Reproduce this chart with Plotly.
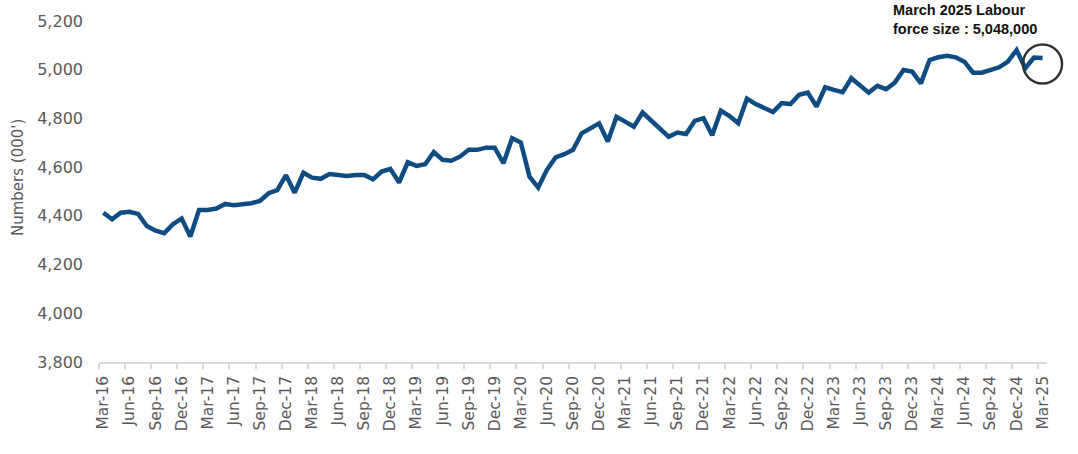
import plotly.graph_objects as go

months = ["Mar", "Apr", "May", "Jun", "Jul", "Aug", "Sep", "Oct", "Nov", "Dec", "Jan", "Feb"]

# Monthly labour force (000') from Mar-16 to Mar-25
values = [
    4413, 4386, 4413, 4417, 4408, 4358, 4339, 4329, 4366, 4389, 4315, 4424,   # Mar-16..Feb-17
    4424, 4430, 4449, 4444, 4448, 4452, 4461, 4493, 4506, 4567, 4495, 4577,   # Mar-17..Feb-18
    4557, 4552, 4572, 4568, 4564, 4568, 4568, 4550, 4582, 4593, 4537, 4620,   # Mar-18..Feb-19
    4605, 4612, 4662, 4630, 4626, 4643, 4671, 4671, 4680, 4680, 4616, 4719,   # Mar-19..Feb-20
    4701, 4561, 4516, 4589, 4640, 4653, 4671, 4739, 4762, 4780, 4705, 4807,   # Mar-20..Feb-21
    4787, 4766, 4824, 4790, 4757, 4725, 4742, 4736, 4790, 4801, 4731, 4832,   # Mar-21..Feb-22
    4810, 4780, 4881, 4859, 4843, 4826, 4863, 4859, 4897, 4906, 4849, 4928,   # Mar-22..Feb-23
    4917, 4908, 4965, 4935, 4906, 4934, 4920, 4947, 4999, 4992, 4944, 5040,   # Mar-23..Feb-24
    5051, 5057, 5051, 5033, 4988, 4988, 4997, 5010, 5033, 5081, 5006, 5050,   # Mar-24..Feb-25
    5048,                                                                     # Mar-25
]

labels = []
for k in range(len(values)):
    m = months[k % 12]
    yr = 16 + (k + 2) // 12
    labels.append(f"{m}-{yr:02d}")

x_idx = list(range(len(values)))
tick_idx = x_idx[::3]
tick_text = [labels[i] for i in tick_idx]
boundary_ticks = [i - 0.5 for i in tick_idx]

y_ticks = [3800, 4000, 4200, 4400, 4600, 4800, 5000, 5200]

font_family = "DejaVu Sans"
grey = "#595959"

fig = go.Figure()
fig.add_trace(go.Scatter(
    x=x_idx, y=values, mode="lines",
    line=dict(color="#0F4C81", width=4.5),
    hoverinfo="skip", showlegend=False,
))

fig.update_layout(
    width=1078, height=454,
    margin=dict(l=99, r=31, t=21, b=92),
    paper_bgcolor="white", plot_bgcolor="white",
    font=dict(family=font_family, color=grey, size=15),
    xaxis=dict(
        range=[-0.5, 108.5],
        tickmode="array", tickvals=tick_idx, ticktext=tick_text,
        tickangle=-90, ticks="", showgrid=False, zeroline=False,
        showline=True, linecolor="#D9D9D9", linewidth=1.5,
        tickfont=dict(size=15.5, color=grey),
        ticklabelstandoff=6,
        minor=dict(tickmode="array", tickvals=boundary_ticks, ticks="outside",
                   ticklen=5, tickcolor="#D9D9D9", tickwidth=1.5, showgrid=False),
    ),
    yaxis=dict(
        range=[3800, 5200], tickmode="array", tickvals=y_ticks,
        tickformat=",d", showgrid=False, zeroline=False, showline=False,
        ticks="", tickfont=dict(size=16, color=grey),
        ticklabelstandoff=15,
    ),
)

# y-axis title
fig.add_annotation(
    xref="paper", yref="paper", x=(18 - 99) / 948, y=(362 - 178) / 341,
    xanchor="center", yanchor="middle", textangle=-90, showarrow=False,
    text="Numbers (000')", font=dict(size=15, color=grey, family=font_family),
)

# circle highlighting the last point
cx, cy, r = 0.9953, 0.8739, 19.5
fig.add_shape(type="circle", xref="paper", yref="paper",
              x0=cx - r / 948, x1=cx + r / 948, y0=cy - r / 341, y1=cy + r / 341,
              line=dict(color="#333333", width=2.5), fillcolor="rgba(0,0,0,0)")

fig.add_annotation(
    xref="paper", yref="paper", x=(891 - 99) / 948, y=(362 - 0) / 341,
    xanchor="left", yanchor="top", align="left", showarrow=False,
    text="<b>March 2025 Labour<br>force size : 5,048,000</b>",
    font=dict(family="Liberation Sans", size=14.5, color="#111111"),
)

fig.write_html("out.html")
